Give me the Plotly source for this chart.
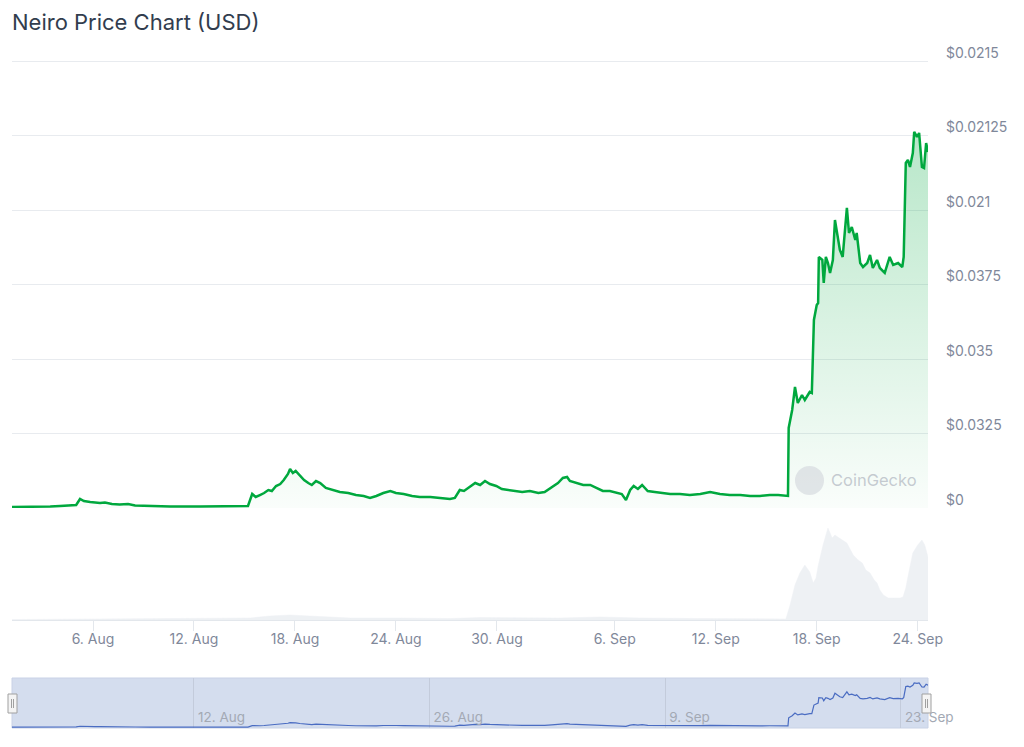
import plotly.graph_objects as go

# ---------------- data ----------------
price_dates = [
    "2024-08-01 04:30", "2024-08-01 16:00", "2024-08-02 06:00", "2024-08-02 20:00", "2024-08-03 11:00",
    "2024-08-04 01:00", "2024-08-04 15:00", "2024-08-05 00:00", "2024-08-05 05:30", "2024-08-05 11:00",
    "2024-08-05 20:00", "2024-08-06 03:00", "2024-08-06 10:00", "2024-08-06 17:00", "2024-08-07 03:00",
    "2024-08-07 14:00", "2024-08-08 02:00", "2024-08-08 12:00", "2024-08-09 09:00", "2024-08-10 14:00",
    "2024-08-12 09:00", "2024-08-14 03:00", "2024-08-15 05:00", "2024-08-15 11:00", "2024-08-15 16:00",
    "2024-08-15 22:00", "2024-08-16 04:00", "2024-08-16 10:00", "2024-08-16 15:00", "2024-08-16 21:00",
    "2024-08-17 03:00", "2024-08-17 08:00", "2024-08-17 14:00", "2024-08-17 17:00", "2024-08-17 21:00",
    "2024-08-18 01:00", "2024-08-18 07:00", "2024-08-18 13:00", "2024-08-18 19:00", "2024-08-19 00:00",
    "2024-08-19 06:00", "2024-08-19 12:00", "2024-08-19 20:00", "2024-08-20 05:00", "2024-08-20 16:00",
    "2024-08-21 04:00", "2024-08-21 15:00", "2024-08-22 02:00", "2024-08-22 11:00", "2024-08-22 20:00",
    "2024-08-23 06:00", "2024-08-23 16:00", "2024-08-24 00:00", "2024-08-24 11:00", "2024-08-24 23:00",
    "2024-08-25 10:00", "2024-08-26 01:00", "2024-08-26 15:00", "2024-08-27 05:00", "2024-08-27 12:00",
    "2024-08-27 19:00", "2024-08-28 01:00", "2024-08-28 10:00", "2024-08-28 17:00", "2024-08-29 00:00",
    "2024-08-29 07:00", "2024-08-29 14:00", "2024-08-29 23:00", "2024-08-30 07:00", "2024-08-30 16:00",
    "2024-08-31 02:00", "2024-08-31 12:00", "2024-08-31 23:00", "2024-09-01 11:00", "2024-09-01 20:00",
    "2024-09-02 06:00", "2024-09-02 15:00", "2024-09-02 22:00", "2024-09-03 04:00", "2024-09-03 08:00",
    "2024-09-03 17:00", "2024-09-04 03:00", "2024-09-04 13:00", "2024-09-04 21:00", "2024-09-05 07:00",
    "2024-09-05 17:00", "2024-09-06 05:00", "2024-09-06 10:00", "2024-09-06 16:00", "2024-09-06 22:00",
    "2024-09-07 03:00", "2024-09-07 09:00", "2024-09-07 15:00", "2024-09-07 23:00", "2024-09-08 09:00",
    "2024-09-08 19:00", "2024-09-09 07:00", "2024-09-09 21:00", "2024-09-10 11:00", "2024-09-11 02:00",
    "2024-09-11 16:00", "2024-09-12 06:00", "2024-09-12 20:00", "2024-09-13 11:00", "2024-09-14 01:00",
    "2024-09-14 15:00", "2024-09-15 05:00", "2024-09-15 17:00", "2024-09-16 03:00", "2024-09-16 07:00",
    "2024-09-16 08:00", "2024-09-16 13:00", "2024-09-16 17:00", "2024-09-16 21:00", "2024-09-17 03:00",
    "2024-09-17 07:00", "2024-09-17 14:00", "2024-09-17 17:00", "2024-09-17 20:00", "2024-09-18 00:00",
    "2024-09-18 02:00", "2024-09-18 03:00", "2024-09-18 08:00", "2024-09-18 10:00", "2024-09-18 13:00",
    "2024-09-18 16:00", "2024-09-18 19:00", "2024-09-18 23:00", "2024-09-19 02:00", "2024-09-19 05:00",
    "2024-09-19 09:00", "2024-09-19 13:00", "2024-09-19 16:00", "2024-09-19 19:00", "2024-09-19 22:00",
    "2024-09-20 02:00", "2024-09-20 07:00", "2024-09-20 09:00", "2024-09-20 14:00", "2024-09-20 18:00",
    "2024-09-21 00:00", "2024-09-21 04:00", "2024-09-21 08:00", "2024-09-21 14:00", "2024-09-21 18:00",
    "2024-09-22 01:00", "2024-09-22 08:00", "2024-09-22 13:00", "2024-09-22 20:00", "2024-09-23 02:00",
    "2024-09-23 04:00", "2024-09-23 07:00", "2024-09-23 10:00", "2024-09-23 13:00", "2024-09-23 17:00",
    "2024-09-23 19:00", "2024-09-23 23:00", "2024-09-24 02:00", "2024-09-24 06:00", "2024-09-24 09:00",
    "2024-09-24 12:00", "2024-09-24 14:40",
]
price_usd = [
    0.0000034, 0.0000034, 0.0000050, 0.0000034, 0.0000050,
    0.0000067, 0.0000084, 0.0000101, 0.0000302, 0.0000235,
    0.0000201, 0.0000185, 0.0000168, 0.0000185, 0.0000134,
    0.0000117, 0.0000134, 0.0000084, 0.0000067, 0.0000050,
    0.0000050, 0.0000050, 0.0000067, 0.0000470, 0.0000369,
    0.0000436, 0.0000503, 0.0000604, 0.0000571, 0.0000738,
    0.0000805, 0.0000940, 0.0001141, 0.0001309, 0.0001175,
    0.0001242, 0.0001074, 0.0000940, 0.0000839, 0.0000772,
    0.0000906, 0.0000839, 0.0000671, 0.0000604, 0.0000537,
    0.0000503, 0.0000436, 0.0000403, 0.0000336, 0.0000403,
    0.0000503, 0.0000571, 0.0000503, 0.0000470, 0.0000403,
    0.0000369, 0.0000369, 0.0000336, 0.0000302, 0.0000336,
    0.0000604, 0.0000571, 0.0000738, 0.0000839, 0.0000772,
    0.0000906, 0.0000805, 0.0000738, 0.0000638, 0.0000604,
    0.0000571, 0.0000537, 0.0000571, 0.0000503, 0.0000537,
    0.0000705, 0.0000839, 0.0001007, 0.0001040, 0.0000906,
    0.0000839, 0.0000772, 0.0000772, 0.0000671, 0.0000571,
    0.0000571, 0.0000503, 0.0000470, 0.0000268, 0.0000604,
    0.0000738, 0.0000638, 0.0000772, 0.0000571, 0.0000537,
    0.0000503, 0.0000470, 0.0000470, 0.0000436, 0.0000470,
    0.0000537, 0.0000470, 0.0000436, 0.0000436, 0.0000403,
    0.0000403, 0.0000436, 0.0000436, 0.0000403, 0.0000403,
    0.0002685, 0.0003289, 0.0004061, 0.0003524, 0.0003792,
    0.0003624, 0.0003893, 0.0003859, 0.0006309, 0.0006813,
    0.0006880, 0.0008424, 0.0008323, 0.0007551, 0.0008424,
    0.0008222, 0.0007887, 0.0008323, 0.0009665, 0.0009229,
    0.0008658, 0.0008424, 0.0009229, 0.0010068, 0.0009229,
    0.0009430, 0.0008994, 0.0009229, 0.0008222, 0.0008088,
    0.0008222, 0.0008491, 0.0008054, 0.0008323, 0.0008054,
    0.0007887, 0.0008424, 0.0008155, 0.0008222, 0.0008088,
    0.0008424, 0.0011578, 0.0011679, 0.0011444, 0.0011914,
    0.0012619, 0.0012451, 0.0012585, 0.0011444, 0.0011410,
    0.0012249, 0.0011947,
]

volume_dates = [
    "2024-08-01 04:30", "2024-08-06 10:00", "2024-08-12 09:00", "2024-08-15 08:00", "2024-08-16 12:00",
    "2024-08-17 17:00", "2024-08-18 21:00", "2024-08-21 07:00", "2024-08-24 06:00", "2024-08-27 05:00",
    "2024-08-29 00:00", "2024-09-02 18:00", "2024-09-05 03:00", "2024-09-07 12:00", "2024-09-11 02:00",
    "2024-09-14 15:00", "2024-09-16 04:00", "2024-09-16 10:00", "2024-09-16 17:00", "2024-09-17 00:00",
    "2024-09-17 07:00", "2024-09-17 14:00", "2024-09-17 19:00", "2024-09-17 23:00", "2024-09-18 02:00",
    "2024-09-18 09:00", "2024-09-18 13:00", "2024-09-18 16:00", "2024-09-18 22:00", "2024-09-19 02:00",
    "2024-09-19 06:00", "2024-09-19 12:00", "2024-09-19 19:00", "2024-09-20 04:00", "2024-09-20 11:00",
    "2024-09-20 17:00", "2024-09-20 22:00", "2024-09-21 04:00", "2024-09-21 10:00", "2024-09-21 14:00",
    "2024-09-21 18:00", "2024-09-21 23:00", "2024-09-22 06:00", "2024-09-22 13:00", "2024-09-22 23:00",
    "2024-09-23 03:00", "2024-09-23 07:00", "2024-09-23 10:00", "2024-09-23 14:00", "2024-09-23 17:00",
    "2024-09-24 00:00", "2024-09-24 06:00", "2024-09-24 10:00", "2024-09-24 14:40",
]
volume_musd = [
    5, 10, 10, 20, 40,
    50, 40, 20, 20, 15,
    25, 20, 30, 20, 15,
    10, 10, 150, 350, 470,
    550, 480, 370, 420, 540,
    750, 850, 920, 820, 850,
    830, 800, 770, 650, 600,
    570, 500, 470, 400, 370,
    300, 250, 220, 220, 220,
    230, 320, 430, 550, 670,
    750, 800, 750, 630,
]

price_tick_vals = [0, 0.00025, 0.0005, 0.00075, 0.001, 0.00125, 0.0015]
price_tick_text = ["$0", "$0.0325", "$0.035", "$0.0375", "$0.021", "$0.02125", "$0.0215"]

date_tick_vals = ["2024-08-06", "2024-08-12", "2024-08-18", "2024-08-24", "2024-08-30",
                  "2024-09-06", "2024-09-12", "2024-09-18", "2024-09-24"]
date_tick_text = ["6. Aug", "12. Aug", "18. Aug", "24. Aug", "30. Aug",
                  "6. Sep", "12. Sep", "18. Sep", "24. Sep"]

nav_tick_vals = ["2024-08-12", "2024-08-26", "2024-09-09", "2024-09-23"]
nav_tick_text = ["12. Aug", "26. Aug", "9. Sep", "23. Sep"]

# ---------------- styling ----------------
FONT = "Inter, 'Noto Sans', sans-serif"
GREEN = "#00a83e"
LABEL = "#7f889a"
GRID = "#e8ebef"

x_range = [price_dates[0], price_dates[-1]]

W, H = 1024, 747
L, R, T, B = 12, 96, 59, 19
ph = H - T - B  # plot height in px


def py(p):
    """pixel row -> paper y"""
    return (H - B - p) / ph


def px(p):
    """pixel column -> paper x"""
    return (p - L) / (W - L - R)


# price axis: 0 at row 508, top tick at row 61; padded 2px each side so edge gridlines show
top_tick = price_tick_vals[-1]
per_px = top_tick / (508 - 61)
price_range = [-2 * per_px, top_tick + 2 * per_px]

fig = go.Figure()

fig.add_trace(go.Scatter(
    x=volume_dates, y=volume_musd, xaxis="x", yaxis="y2",
    mode="lines", line=dict(color="#eef1f4", width=0.5),
    fill="tozeroy", fillcolor="#eef1f4", hoverinfo="skip", showlegend=False,
))

fig.add_trace(go.Scatter(
    x=price_dates, y=price_usd, xaxis="x", yaxis="y",
    mode="lines", line=dict(color=GREEN, width=2.5),
    fill="tozeroy",
    fillgradient=dict(
        type="vertical",
        start=0, stop=max(price_usd),
        colorscale=[[0, "rgba(0,168,62,0.02)"], [1, "rgba(0,168,62,0.28)"]],
    ),
    showlegend=False,
))

fig.add_trace(go.Scatter(
    x=price_dates, y=price_usd, xaxis="x2", yaxis="y3",
    mode="lines", line=dict(color="#4a6cc2", width=1.2),
    hoverinfo="skip", showlegend=False,
))

fig.update_layout(
    width=W, height=H,
    margin=dict(l=L, r=R, t=T, b=B),
    paper_bgcolor="white", plot_bgcolor="white",
    font=dict(family=FONT, color=LABEL, size=14),
    title=dict(
        text="Neiro Price Chart (USD)",
        x=12 / W, xref="container", xanchor="left",
        y=1 - 22 / H, yref="container", yanchor="middle",
        font=dict(family=FONT, size=22, color="#323d4e"),
    ),
    xaxis=dict(
        domain=[0, 1], anchor="y2", range=x_range, type="date",
        tickvals=date_tick_vals, ticktext=date_tick_text,
        ticks="outside", ticklen=10, tickcolor="#e3e7ec", tickwidth=1,
        ticklabelstandoff=-4,
        showline=True, linecolor="#e3e7ec", linewidth=1,
        showgrid=False, zeroline=False, automargin=False,
        tickfont=dict(size=14, color=LABEL),
    ),
    yaxis=dict(
        domain=[py(510), py(59)], anchor="x", side="right", range=price_range,
        tickvals=price_tick_vals, ticktext=price_tick_text,
        showgrid=True, gridcolor=GRID, zeroline=False, showline=False,
        ticks="", ticklabelstandoff=17, ticklabelshift=-8, automargin=False,
        tickfont=dict(size=14, color=LABEL),
    ),
    yaxis2=dict(
        domain=[py(620), py(508)], anchor="x", range=[0, 1120],
        showgrid=False, zeroline=False, showticklabels=False, showline=False,
    ),
    xaxis2=dict(
        domain=[0, 1], anchor="y3", range=x_range, type="date",
        tickvals=nav_tick_vals, ticktext=nav_tick_text,
        ticklabelposition="inside right", ticklabeloverflow="allow",
        ticklabelshift=4, ticklabelstandoff=-3,
        showgrid=True, gridcolor="#c3cbdb", gridwidth=1,
        ticks="", showline=False, zeroline=False, automargin=False,
        tickfont=dict(size=13.5, color="#a3a9b4"),
    ),
    yaxis3=dict(
        domain=[0, py(678)], anchor="x2", range=[-0.00002, 0.0014],
        showgrid=False, zeroline=False, showticklabels=False, showline=False,
    ),
    shapes=[
        # navigator mask
        dict(type="rect", xref="x2 domain", yref="y3 domain", x0=0, x1=1, y0=0, y1=1,
             fillcolor="rgba(102,133,194,0.28)", line=dict(color="#c9d2e6", width=1),
             layer="below"),
        # navigator handles
        dict(type="rect", xref="paper", yref="paper", x0=px(8), x1=px(17), y0=py(713), y1=py(694),
             fillcolor="#f4f4f4", line=dict(color="#a0a0a0", width=1), layer="above"),
        dict(type="line", xref="paper", yref="paper", x0=px(11.5), x1=px(11.5), y0=py(708), y1=py(699),
             line=dict(color="#a0a0a0", width=1), layer="above"),
        dict(type="line", xref="paper", yref="paper", x0=px(13.5), x1=px(13.5), y0=py(708), y1=py(699),
             line=dict(color="#a0a0a0", width=1), layer="above"),
        dict(type="rect", xref="paper", yref="paper", x0=px(922), x1=px(931), y0=py(713), y1=py(694),
             fillcolor="#f4f4f4", line=dict(color="#a0a0a0", width=1), layer="above"),
        dict(type="line", xref="paper", yref="paper", x0=px(925.5), x1=px(925.5), y0=py(708), y1=py(699),
             line=dict(color="#a0a0a0", width=1), layer="above"),
        dict(type="line", xref="paper", yref="paper", x0=px(927.5), x1=px(927.5), y0=py(708), y1=py(699),
             line=dict(color="#a0a0a0", width=1), layer="above"),
        # watermark logo
        dict(type="circle", xref="paper", yref="paper", x0=px(795), x1=px(824), y0=py(495), y1=py(466),
             fillcolor="rgba(205,210,216,0.55)", line=dict(width=0), layer="above"),
    ],
    annotations=[
        dict(text="CoinGecko", xref="paper", yref="paper", x=px(829), y=py(480),
             xanchor="left", yanchor="middle", showarrow=False,
             font=dict(family=FONT, size=16.5, color="rgba(180,186,195,0.75)")),
    ],
)

fig.write_html("out.html")
